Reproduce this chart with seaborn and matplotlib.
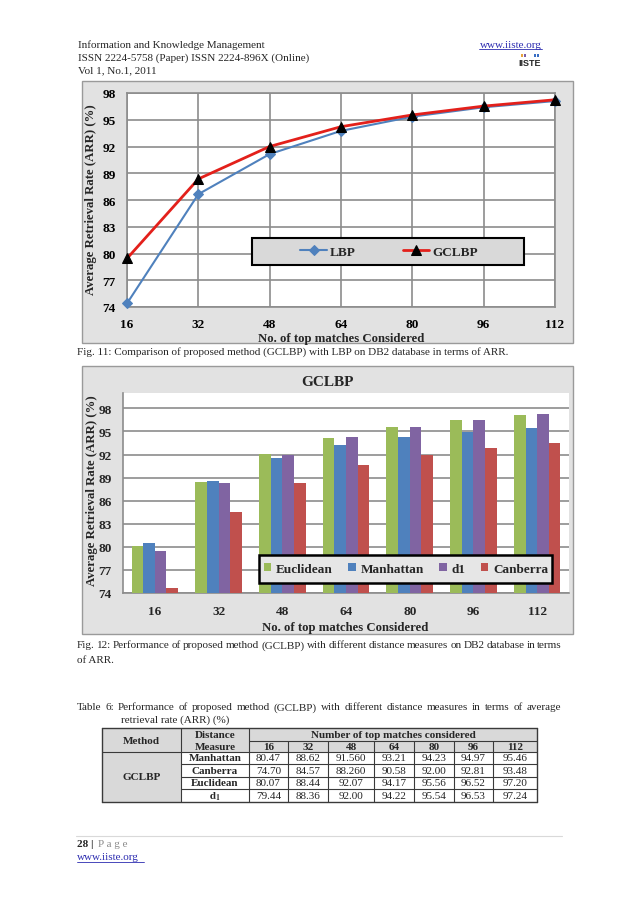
import matplotlib
matplotlib.use('Agg')
import matplotlib.pyplot as plt
import seaborn as sns
import pandas as pd
import numpy as np
from matplotlib.patches import Rectangle, Patch
from matplotlib.lines import Line2D

# ---------------- data ----------------
matches = [16, 32, 48, 64, 80, 96, 112]
lbp = [74.4, 86.65, 91.15, 93.75, 95.35, 96.4, 97.1]
gclbp = [79.44, 88.36, 92.00, 94.22, 95.54, 96.53, 97.24]

measures = ['Euclidean', 'Manhattan', 'd1', 'Canberra']
euclidean = [80.07, 88.44, 92.07, 94.17, 95.56, 96.52, 97.20]
manhattan = [80.47, 88.62, 91.56, 93.21, 94.23, 94.97, 95.46]
d1 = [79.44, 88.36, 92.00, 94.22, 95.54, 96.53, 97.24]
canberra = [74.70, 84.57, 88.26, 90.58, 92.00, 92.81, 93.48]
y_ticks = [74, 77, 80, 83, 86, 89, 92, 95, 98]

table_rows = ['Manhattan', 'Canberra', 'Euclidean', r'$\mathbf{d_1}$']
table_vals = [manhattan, canberra, euclidean, d1]
table_decimals = [[2, 2, 3, 2, 2, 2, 2], [2, 2, 3, 2, 2, 2, 2],
                  [2, 2, 2, 2, 2, 2, 2], [2, 2, 2, 2, 2, 2, 2]]

bar_colors = {'Euclidean': '#9bbb59', 'Manhattan': '#4f81bd',
              'd1': '#8064a2', 'Canberra': '#c0504d'}

# ---------------- setup ----------------
sns.set_theme(style='white')
plt.rcParams['font.family'] = ['Liberation Serif', 'DejaVu Serif']
plt.rcParams['mathtext.fontset'] = 'stix'

W, H = 638, 903
fig = plt.figure(figsize=(W / 100, H / 100), dpi=100)
fig.patch.set_facecolor('white')


def fx(x):
    return x / W


def fy(y):
    return 1 - y / H


def add_ax(x0, y0, x1, y1):
    return fig.add_axes([x0 / W, 1 - y1 / H, (x1 - x0) / W, (y1 - y0) / H])


def frect(x0, y0, x1, y1, fc, ec='none', lw=0, z=-5):
    r = Rectangle((fx(x0), fy(y1)), (x1 - x0) / W, (y1 - y0) / H,
                  transform=fig.transFigure, facecolor=fc, edgecolor=ec,
                  lw=lw, zorder=z)
    fig.patches.append(r)
    return r


def fline(x0, y0, x1, y1, color='#333333', lw=0.8, z=6):
    fig.lines.append(Line2D([fx(x0), fx(x1)], [fy(y0), fy(y1)],
                            transform=fig.transFigure, color=color, lw=lw,
                            zorder=z))


def ftext(x, y, s, **kw):
    kw.setdefault('va', 'center')
    return fig.text(fx(x), fy(y), s, **kw)


renderer = fig.canvas.get_renderer()


def justified(s, x0, x1, y, **kw):
    words = s.split()
    ts = [fig.text(0, 0, w, va='center', **kw) for w in words]
    widths = [t.get_window_extent(renderer).width for t in ts]
    gap = (x1 - x0 - sum(widths)) / (len(words) - 1)
    x = x0
    for t, w in zip(ts, widths):
        t.set_position((fx(x), fy(y)))
        x += w + gap


TXT = 8.0
TICK = 9.5

# ---------------- page header ----------------
ftext(78, 45, 'Information and Knowledge Management', fontsize=TXT)
ftext(78, 58, 'ISSN 2224-5758 (Paper) ISSN 2224-896X (Online)', fontsize=TXT)
ftext(78, 71, 'Vol 1, No.1, 2011', fontsize=TXT)
ftext(542, 45, 'www.iiste.org', fontsize=TXT, ha='right', color='#2b2bb0')
fline(479, 49.5, 542, 49.5, color='#2b2bb0', lw=0.6)
for xx, cc in [(520.5, '#e8a33d'), (523.5, '#7a5fa8'), (533.5, '#3a6fc4'), (537, '#3a6fc4')]:
    frect(xx, 55, xx + 2, 58, cc, z=6)
ftext(529.5, 64, 'IISTE', fontsize=6.5, fontweight='bold', ha='center',
      family=['Liberation Sans', 'DejaVu Sans'])

# ---------------- chart 1 ----------------
frect(82, 82, 573, 344, '#e2e2e2', ec='#9a9a9a', lw=1.0)
ax1 = add_ax(127, 94, 555, 308)
ax1.set_facecolor('white')
sns.lineplot(x=matches, y=lbp, ax=ax1, color='#4f81bd', lw=1.5, marker='D',
             markersize=5, markeredgecolor='#4f81bd', markerfacecolor='#4f81bd',
             label='LBP', clip_on=False, zorder=3)
sns.lineplot(x=matches, y=gclbp, ax=ax1, color='#e3201b', lw=2.0, marker='^',
             markersize=7, markerfacecolor='black', markeredgecolor='black',
             label='GCLBP', clip_on=False, zorder=4)
ax1.set_xlim(16, 112)
ax1.set_ylim(74, 98)
ax1.set_xticks(matches)
ax1.set_yticks(y_ticks)
ax1.grid(True, color='#8c8c8c', lw=1.2)
ax1.set_axisbelow(True)
for sp in ax1.spines.values():
    sp.set_color('#8c8c8c')
    sp.set_linewidth(1.2)
ax1.tick_params(axis='both', direction='out', length=4, width=1,
                color='#8c8c8c', labelsize=TICK, colors='black')
ax1.tick_params(axis='x', pad=4)
ax1.tick_params(axis='y', pad=4)
ax1.tick_params(axis='both', color='#8c8c8c')
for lab in ax1.get_xticklabels() + ax1.get_yticklabels():
    lab.set_fontweight('bold')
ax1.set_xlabel('No. of top matches Considered', fontsize=9.2, fontweight='bold')
ax1.set_ylabel('Average Retrieval Rate (ARR) (%)', fontsize=9.2, fontweight='bold')
ax1.xaxis.label.set_va('center')
ax1.yaxis.label.set_va('center')
ax1.xaxis.set_label_coords((341.5 - 127) / 428, (308 - 339.5) / 214)
ax1.yaxis.set_label_coords((91 - 127) / 428, (308 - 200) / 214)
h1, l1 = ax1.get_legend_handles_labels()
if ax1.get_legend() is not None:
    ax1.get_legend().remove()
frect(252, 239, 524, 266, '#d9d9d9', ec='black', lw=1.5, z=3)
fig.legend(h1, l1, loc='center', bbox_to_anchor=(fx(389), fy(252.5)), ncol=2,
           frameon=False, prop={'size': 9.5, 'weight': 'bold'},
           handlelength=2.0, handletextpad=0.2, columnspacing=3.6)

ftext(77, 352, 'Fig. 11: Comparison of proposed method (GCLBP) with LBP on DB2 '
      'database in terms of ARR.', fontsize=TXT)

# ---------------- chart 2 ----------------
rows = []
for name, vals in zip(measures, [euclidean, manhattan, d1, canberra]):
    for m, v in zip(matches, vals):
        rows.append((str(m), name, v))
df2 = pd.DataFrame(rows, columns=['matches', 'measure', 'ARR'])

frect(82, 367, 573, 635, '#e2e2e2', ec='#9a9a9a', lw=1.0)
ax2 = add_ax(123, 394, 569, 594)
ax2.set_facecolor('white')
sns.barplot(data=df2, x='matches', y='ARR', hue='measure', hue_order=measures,
            order=[str(m) for m in matches], palette=bar_colors, width=0.73,
            saturation=1, linewidth=0, ax=ax2, legend=False, zorder=3)
ax2.set_xlim(-0.5, 6.5)
ax2.set_ylim(74, 100)
ax2.set_yticks(y_ticks)
ax2.grid(False)
ax2.yaxis.grid(True, color='#8c8c8c', lw=1.2)
ax2.set_axisbelow(True)
for k in ['top', 'right']:
    ax2.spines[k].set_visible(False)
for k in ['left', 'bottom']:
    ax2.spines[k].set_color('#8c8c8c')
    ax2.spines[k].set_linewidth(1.2)
ax2.tick_params(axis='y', direction='out', length=4, width=1, color='#8c8c8c',
                labelsize=TICK, pad=4)
ax2.tick_params(axis='x', length=0, labelsize=TICK, pad=9)
for lab in ax2.get_xticklabels() + ax2.get_yticklabels():
    lab.set_fontweight('bold')
ax2.set_xlabel('No. of top matches Considered', fontsize=9.2, fontweight='bold')
ax2.set_ylabel('Average Retrieval Rate (ARR) (%)', fontsize=9.2, fontweight='bold')
ax2.xaxis.label.set_va('center')
ax2.yaxis.label.set_va('center')
ax2.xaxis.set_label_coords((345.5 - 123) / 446, (594 - 628) / 200)
ax2.yaxis.set_label_coords((92 - 123) / 446, (594 - 491) / 200)
ftext(327, 383, 'GCLBP', fontsize=11, fontweight='bold', ha='center')

frect(259, 556, 552, 584, '#e6e6e6', ec='black', lw=1.8, z=3)
h2 = [Patch(facecolor=bar_colors[m], edgecolor='none') for m in measures]
fig.legend(h2, measures, loc='center', bbox_to_anchor=(fx(406), fy(570)),
           ncol=4, frameon=False, prop={'size': 9.5, 'weight': 'bold'},
           handlelength=0.55, handleheight=0.55, handletextpad=0.35,
           columnspacing=1.2)

justified('Fig. 12: Performance of proposed method (GCLBP) with different '
          'distance measures on DB2 database in terms', 77, 562, 646,
          fontsize=TXT)
ftext(77, 661, 'of ARR.', fontsize=TXT)

# ---------------- table ----------------
justified('Table 6: Performance of proposed method (GCLBP) with different '
          'distance measures in terms of average', 77, 561, 708, fontsize=TXT)
ftext(121, 720.5, 'retrieval rate (ARR) (%)', fontsize=TXT)

xs = [102, 181, 249, 288, 328, 374, 414, 454, 493, 537]
ys = [729, 741.5, 753, 765, 777.5, 790, 803]
GRAY = '#d9d9d9'
frect(xs[0], ys[0], xs[-1], ys[2], GRAY, z=5)
frect(xs[0], ys[2], xs[1], ys[-1], GRAY, z=5)
LC = '#3a3a3a'
fline(xs[0], ys[0], xs[-1], ys[0], color=LC, lw=1.0)
fline(xs[0], ys[-1], xs[-1], ys[-1], color=LC, lw=1.0)
fline(xs[0], ys[0], xs[0], ys[-1], color=LC, lw=1.0)
fline(xs[-1], ys[0], xs[-1], ys[-1], color=LC, lw=1.0)
fline(xs[1], ys[0], xs[1], ys[-1], color=LC)
fline(xs[2], ys[0], xs[2], ys[-1], color=LC)
for x in xs[3:-1]:
    fline(x, ys[1], x, ys[-1], color=LC)
fline(xs[2], ys[1], xs[-1], ys[1], color=LC)
fline(xs[0], ys[2], xs[-1], ys[2], color=LC)
for y in ys[3:-1]:
    fline(xs[1], y, xs[-1], y, color=LC)

TF = 8.0
ftext((xs[0] + xs[1]) / 2, (ys[0] + ys[2]) / 2, 'Method', fontsize=TF,
      fontweight='bold', ha='center', zorder=7)
ftext((xs[1] + xs[2]) / 2, (ys[0] + ys[1]) / 2, 'Distance', fontsize=TF,
      fontweight='bold', ha='center', zorder=7)
ftext((xs[1] + xs[2]) / 2, (ys[1] + ys[2]) / 2, 'Measure', fontsize=TF,
      fontweight='bold', ha='center', zorder=7)
ftext((xs[2] + xs[-1]) / 2, (ys[0] + ys[1]) / 2,
      'Number of top matches considered', fontsize=TF, fontweight='bold',
      ha='center', zorder=7)
for i, m in enumerate(matches):
    ftext((xs[i + 2] + xs[i + 3]) / 2, (ys[1] + ys[2]) / 2, str(m),
          fontsize=TF, fontweight='bold', ha='center', zorder=7)
ftext((xs[0] + xs[1]) / 2, (ys[2] + ys[-1]) / 2, 'GCLBP', fontsize=TF,
      fontweight='bold', ha='center', zorder=7)
for r, (name, vals, decs) in enumerate(zip(table_rows, table_vals, table_decimals)):
    yc = (ys[r + 2] + ys[r + 3]) / 2
    ftext((xs[1] + xs[2]) / 2, yc, name, fontsize=TF, fontweight='bold',
          ha='center', zorder=7)
    for i, (v, d) in enumerate(zip(vals, decs)):
        ftext((xs[i + 2] + xs[i + 3]) / 2, yc, f'{v:.{d}f}', fontsize=TF,
              ha='center', zorder=7)

# ---------------- footer ----------------
fline(76, 836.5, 562, 836.5, color='#d9d9d9', lw=0.8)
ftext(77, 845, '28 |', fontsize=TXT, fontweight='bold')
ftext(98, 845, 'P a g e', fontsize=TXT, color='#8c8c8c')
ftext(77, 858, 'www.iiste.org', fontsize=TXT, color='#2b2bb0')
fline(77, 863, 144, 863, color='#2b2bb0', lw=0.6)

fig.savefig('out.png', dpi=100, facecolor='white')
